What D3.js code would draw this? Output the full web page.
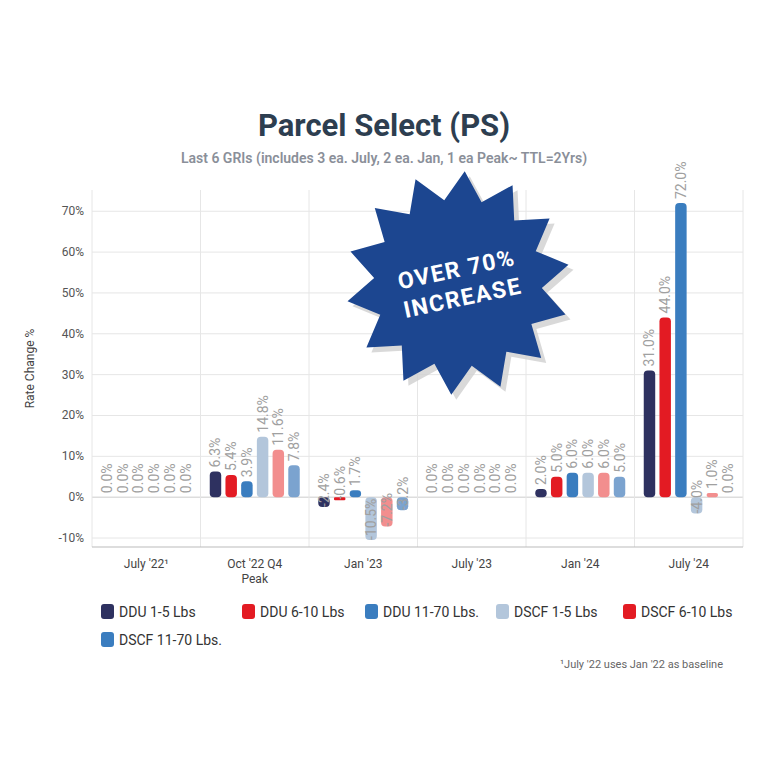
<!DOCTYPE html>
<html><head><meta charset="utf-8">
<script src="https://cdn.jsdelivr.net/npm/d3@7"></script>
<style>body{margin:0;background:#fff;font-family:Roboto,sans-serif}</style>
</head><body>
<script>
// chart data
var groups = ["July '22¹", "Oct '22 Q4|Peak", "Jan '23", "July '23", "Jan '24", "July '24"];
var seriesNames = ["DDU 1-5 Lbs", "DDU 6-10 Lbs", "DDU 11-70 Lbs.", "DSCF 1-5 Lbs", "DSCF 6-10 Lbs", "DSCF 11-70 Lbs."];
var barColors = ["#2e3160", "#e31b23", "#3a7dbf", "#b3c6db", "#f28e8e", "#7ba3cf"];
var legendColors = ["#2e3160", "#e31b23", "#3a7dbf", "#b3c6db", "#e31b23", "#3a7dbf"];
var ddu15 = [0, 6.3, -2.4, 0, 2.0, 31.0];
var ddu610 = [0, 5.4, -0.6, 0, 5.0, 44.0];
var ddu1170 = [0, 3.9, 1.7, 0, 6.0, 72.0];
var dscf15 = [0, 14.8, -10.5, 0, 6.0, -4.0];
var dscf610 = [0, 11.6, -7.2, 0, 6.0, 1.0];
var dscf1170 = [0, 7.8, -3.2, 0, 5.0, 0.0];
var yTicks = [-10, 0, 10, 20, 30, 40, 50, 60, 70];
var series = [ddu15, ddu610, ddu1170, dscf15, dscf610, dscf1170];

var W = 768, H = 768;
var svg = d3.select('body').append('svg').attr('width', W).attr('height', H);

var pLeft = 92, pRight = 743, pTop = 190, pBottom = 547;
var x = d3.scaleBand().domain(groups).range([pLeft, pRight]);
var xi = d3.scaleBand().domain(d3.range(6)).range([0, 90]).paddingInner(0.27);
var y = d3.scaleLinear().domain([-12.2, 75.2]).range([pBottom, pTop]);

// title
svg.append('text').attr('x', 384).attr('y', 136).attr('text-anchor', 'middle')
  .attr('font-size', 31).attr('font-weight', 700).attr('fill', '#2d3e50').text('Parcel Select (PS)');
svg.append('text').attr('x', 384).attr('y', 163).attr('text-anchor', 'middle')
  .attr('font-size', 14).attr('font-weight', 600).attr('fill', '#8a8f99')
  .text('Last 6 GRIs (includes 3 ea. July, 2 ea. Jan, 1 ea Peak~ TTL=2Yrs)');

// grid
svg.append('g').selectAll('line').data(yTicks).enter().append('line')
  .attr('x1', pLeft).attr('x2', pRight).attr('y1', d => y(d)).attr('y2', d => y(d))
  .attr('stroke', d => d === 0 ? '#ccc' : '#e6e6e6');
svg.append('g').selectAll('line').data(groups).enter().append('line')
  .attr('x1', d => x(d)).attr('x2', d => x(d)).attr('y1', pTop).attr('y2', pBottom)
  .attr('stroke', '#e6e6e6');
svg.append('line').attr('x1', pRight).attr('x2', pRight).attr('y1', pTop).attr('y2', pBottom).attr('stroke', '#e6e6e6');
svg.append('line').attr('x1', pLeft).attr('x2', pRight).attr('y1', pBottom).attr('y2', pBottom).attr('stroke', '#bbb');

svg.append('g').selectAll('text').data(yTicks).enter().append('text')
  .attr('x', pLeft - 8).attr('y', d => y(d) + 4).attr('text-anchor', 'end')
  .attr('font-size', 12).attr('fill', '#555').text(d => d + '%');
svg.append('text').attr('transform', 'translate(34,' + ((pTop + pBottom) / 2) + ') rotate(-90)')
  .attr('text-anchor', 'middle').attr('font-size', 12).attr('fill', '#444').text('Rate Change %');

// x labels
groups.forEach(function (g) {
  var t = svg.append('text').attr('x', x(g) + x.bandwidth() / 2).attr('y', 568)
    .attr('text-anchor', 'middle').attr('font-size', 12).attr('fill', '#444');
  g.split('|').forEach(function (s, i) {
    t.append('tspan').attr('x', x(g) + x.bandwidth() / 2).attr('dy', i ? 15 : 0).text(s);
  });
});

// bars
var off = (x.bandwidth() - 90) / 2;
series.forEach(function (vals, si) {
  var gs = svg.append('g');
  vals.forEach(function (v, gi) {
    var bx = x(groups[gi]) + off + xi(si);
    if (v !== 0) {
      var y0 = y(Math.max(v, 0)), h = Math.abs(y(v) - y(0));
      gs.append('rect').attr('x', bx).attr('y', y0).attr('width', xi.bandwidth())
        .attr('height', Math.max(h, 3)).attr('rx', Math.min(4, h / 2)).attr('fill', barColors[si]);
    }
    var ly = v >= 0 ? y(v) - 4 : y(v);
    gs.append('text').attr('transform', 'translate(' + (bx + xi.bandwidth() / 2 + 5) + ',' + ly + ') rotate(-90)')
      .attr('font-size', 14).attr('fill', '#a0a0a0').text(v.toFixed(1) + '%');
  });
});

// starburst
var cx = 458, cy = 283, n = 14, ro = 112, ri = 84;
var pts = d3.range(n * 2).map(function (i) {
  var a = i * Math.PI / n - Math.PI / 2 + 0.06, r = i % 2 ? ri : ro;
  return [cx + r * Math.cos(a), cy + r * Math.sin(a)];
});
svg.append('polygon').attr('points', pts.map(p => (p[0] + 5) + ',' + (p[1] + 5)).join(' '))
  .attr('fill', '#d0d0d0').attr('opacity', 0.8);
svg.append('polygon').attr('points', pts.map(p => p.join(',')).join(' '))
  .attr('fill', '#1c4690');
var st = svg.append('text').attr('transform', 'translate(' + (cx + 1) + ',' + (cy - 2) + ') rotate(-12)')
  .attr('text-anchor', 'middle').attr('font-size', 23).attr('font-weight', 700)
  .attr('fill', '#fff').attr('letter-spacing', 1.5);
st.append('tspan').attr('x', 0).attr('y', -4).text('OVER 70%');
st.append('tspan').attr('x', 0).attr('y', 25).text('INCREASE');

// legend
var lg = svg.append('g');
var legPos = [[101, 612], [242, 612], [365, 612], [496, 612], [623, 612], [101, 640]];
seriesNames.forEach(function (s, i) {
  lg.append('rect').attr('x', legPos[i][0]).attr('y', legPos[i][1] - 8).attr('width', 13).attr('height', 15)
    .attr('rx', 3).attr('fill', legendColors[i]);
  lg.append('text').attr('x', legPos[i][0] + 18).attr('y', legPos[i][1] + 5)
    .attr('font-size', 14).attr('fill', '#333').text(s);
});
svg.append('text').attr('x', 723).attr('y', 668).attr('text-anchor', 'end')
  .attr('font-size', 11).attr('fill', '#666').text("¹July '22 uses Jan '22 as baseline");
</script>
</body></html>
